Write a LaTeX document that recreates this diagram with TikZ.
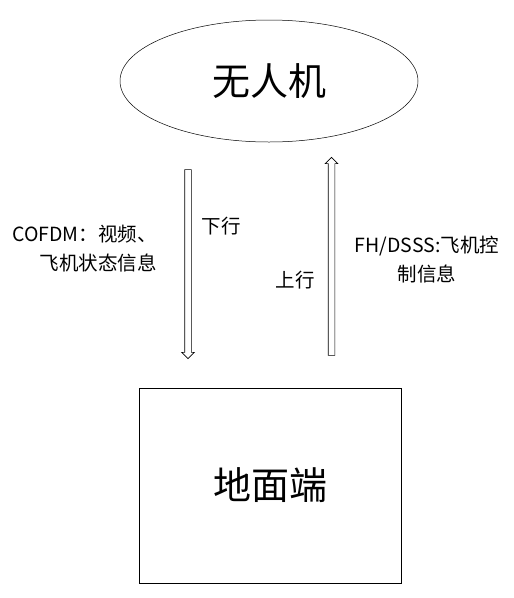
\documentclass[tikz,border=0pt]{standalone}
\usepackage{fontspec}
\setmainfont{Noto Sans CJK SC}
\usetikzlibrary{positioning, shapes.geometric, shapes.arrows}

\begin{document}
\begin{tikzpicture}[
    x=1pt, y=-1pt,
    big/.style={font=\fontsize{38}{40}\selectfont},
    small/.style={font=\fontsize{19.5}{29}\selectfont, inner sep=0pt},
    hollow/.style={single arrow, draw, line width=0.6pt, inner sep=3pt,
        minimum width=12pt, single arrow head extend=3pt}
]
\useasboundingbox (0,0) rectangle (514,598);

% 定义节点
\node[ellipse, draw, line width=0.5pt, minimum width=298pt, minimum height=122pt, big] (uav) at (269,81) {无人机};
\node[rectangle, draw, line width=0.8pt, minimum width=262pt, minimum height=195pt, big] (gnd) at (270,485.5) {地面端};

% 定义上下行箭头
\node[hollow, rotate=-90, minimum height=189pt] (down) at (188,262.5) {};
\node[hollow, rotate=90, minimum height=198pt] (up) at (331.5,258) {};

% 定义标签
\node[small, anchor=center] (downlbl) at (221,226) {下行};
\node[small, anchor=center] (uplbl) at (295,280) {上行};
\node[small, align=right, anchor=east] (cofdm) at (157,248.5) {COFDM：视频、\\飞机状态信息};
\node[small, align=center] (fhss) at (427,260) {FH/DSSS:飞机控\\制信息};

\end{tikzpicture}
\end{document}
